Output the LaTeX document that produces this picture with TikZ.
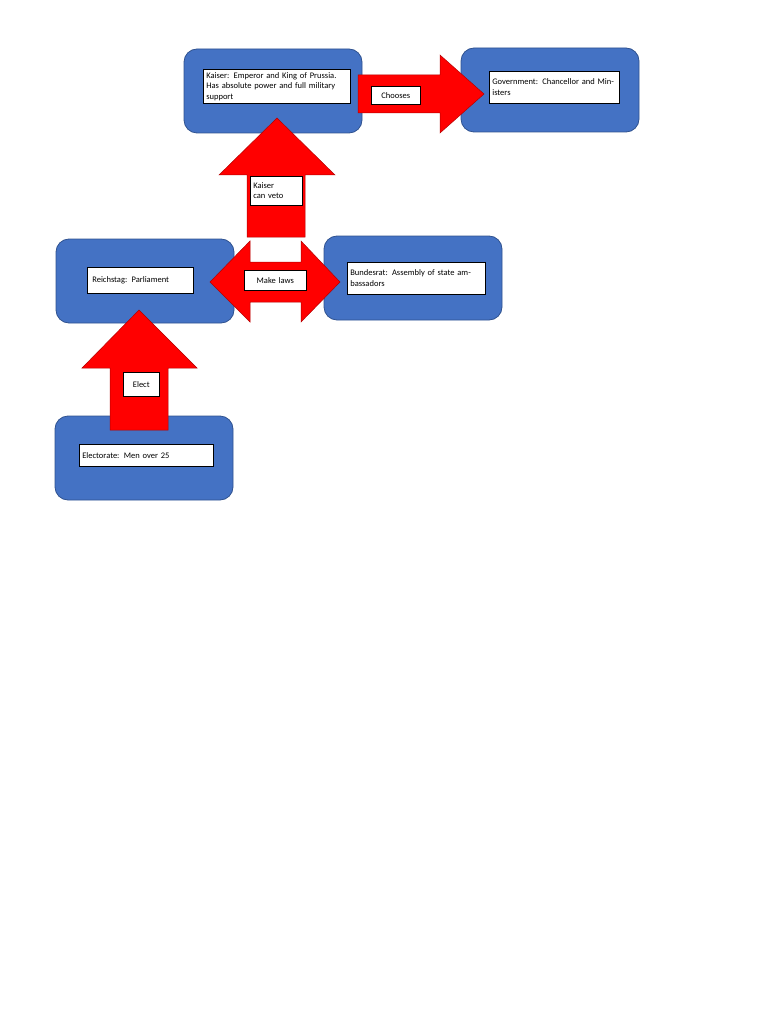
\documentclass[tikz,border=0pt]{standalone}
\usepackage{fontspec}
\setmainfont{Carlito}
\usetikzlibrary{positioning}
\definecolor{boxblue}{HTML}{4472C4}
\definecolor{boxedge}{HTML}{2F528F}
\begin{document}
\begin{tikzpicture}[
        x=1pt, y=-1pt,
        panel/.style={rectangle, rounded corners=13pt, fill=boxblue, draw=boxedge, line width=0.8pt, minimum width=178pt, minimum height=84pt, inner sep=0},
        tag/.style={rectangle, fill=white, draw=black, line width=0.6pt, align=left, font=\fontsize{8.5}{10.5}\selectfont, inner sep=3pt, anchor=north west},
        bigarrow/.style={fill=red, draw=red!70!black, line width=0.5pt}
    ]
        \useasboundingbox (0,0) rectangle (768,1024);
        % blaue Felder
        \node[panel] (kaiser) at (273,91) {};
        \node[panel] (gov) at (550,90) {};
        \node[panel] (reich) at (145,281) {};
        \node[panel] (bund) at (413,278) {};
        \node[panel] (elect) at (144,458) {};

        % Pfeile
        \draw[bigarrow] (358,75) -- (440,75) -- (440,55) -- (484,94) -- (440,133) -- (440,113) -- (358,113) -- cycle;
        \draw[bigarrow] (247,237) -- (247,175) -- (219,175) -- (277,118) -- (335,175) -- (305,175) -- (305,237) -- cycle;
        \draw[bigarrow] (210,282) -- (250,241) -- (250,262) -- (301,262) -- (301,241) -- (340,282) -- (301,322) -- (301,302) -- (250,302) -- (250,322) -- cycle;
        \draw[bigarrow] (110,430) -- (110,368) -- (82,368) -- (139,310) -- (197,368) -- (168,368) -- (168,430) -- cycle;

        % Beschriftungen
        \node[tag, text width=141pt] (kaisertxt) at (203,69) {Kaiser: Emperor and King of Prussia. Has absolute power and full military support};
        \node[tag, text width=124pt, minimum height=32pt] (govtxt) at (489,71) {Government: Chancellor and Ministers};
        \node[tag, text width=100pt, minimum height=26pt] (reichtxt) at (87,267) {\hspace{2pt}Reichstag: Parliament};
        \node[tag, text width=132pt, minimum height=32pt] (bundtxt) at (347,262) {Bundesrat: Assembly of state ambassadors};
        \node[tag, text width=128pt, minimum height=22pt] (electtxt) at (79,444) {Electorate: Men over 25};
        \node[tag, text width=43pt, minimum height=18pt, align=center] (chooses) at (371,86) {Chooses};
        \node[tag, text width=46pt, minimum height=29pt] (veto) at (250,176) {Kaiser\\can veto};
        \node[tag, text width=56pt, minimum height=20pt, align=center] (laws) at (244,270) {Make laws};
        \node[tag, text width=30pt, minimum height=24pt, align=center] (electlbl) at (123,372) {Elect};
    \end{tikzpicture}
\end{document}
